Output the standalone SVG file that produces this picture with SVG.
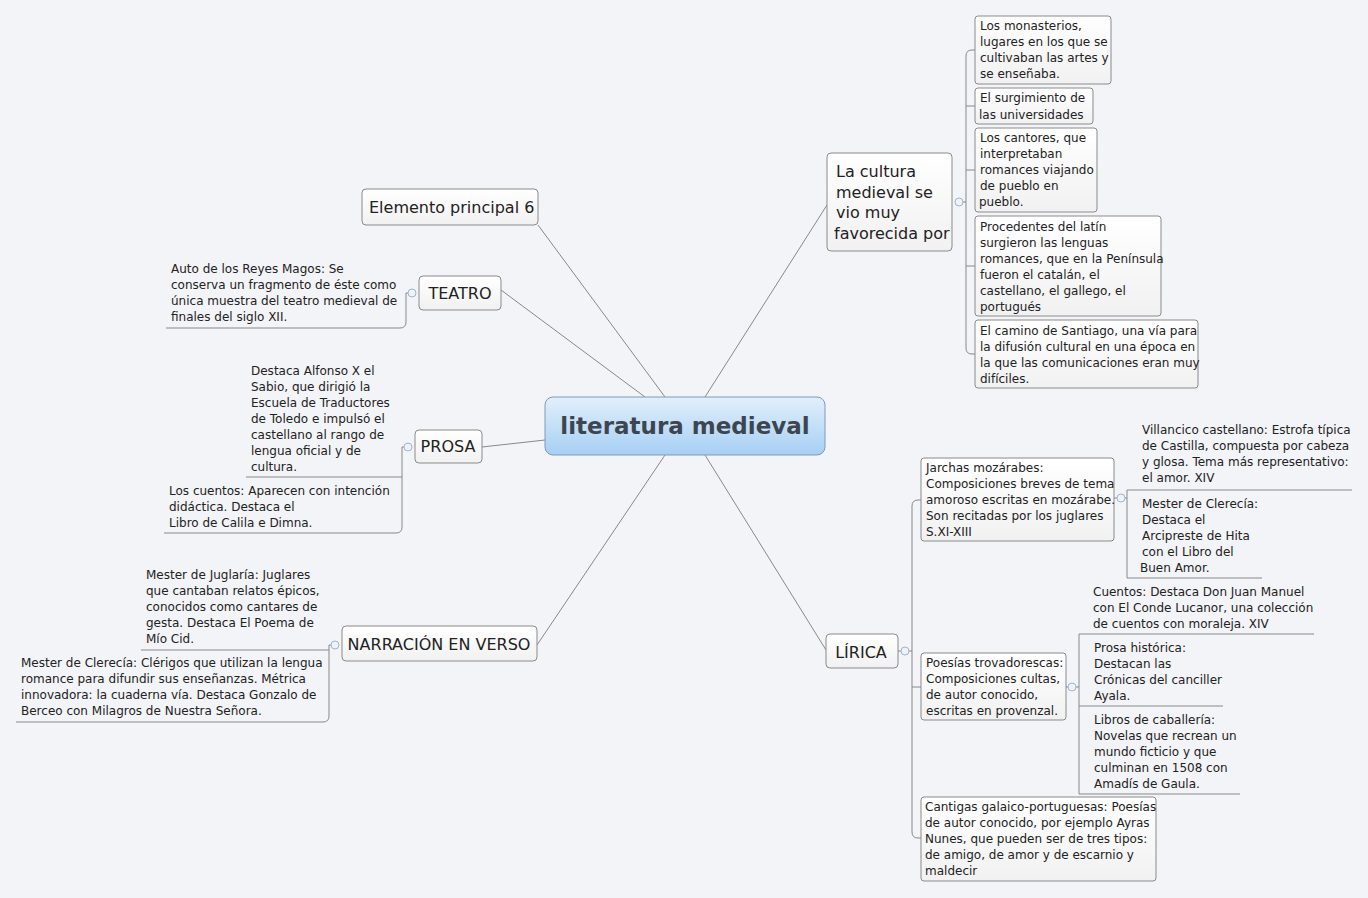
<svg xmlns="http://www.w3.org/2000/svg" width="1368" height="898" viewBox="0 0 1368 898">
<defs>
<linearGradient id="cg" x1="0" y1="0" x2="0" y2="1"><stop offset="0" stop-color="#e2effb"/><stop offset="1" stop-color="#a6cff4"/></linearGradient>
<linearGradient id="wg" x1="0" y1="0" x2="0" y2="1"><stop offset="0" stop-color="#ffffff"/><stop offset="1" stop-color="#f1f1f1"/></linearGradient>
<style>
text{font-family:"DejaVu Sans","Liberation Sans",sans-serif;fill:#222}
.s{font-size:12px}
.t{font-size:16px}
.box{fill:url(#wg);stroke:#8a8a8a;stroke-width:1}
.ln{fill:none;stroke:#888;stroke-width:1}
.ul{fill:none;stroke:#666;stroke-width:1}
.j{fill:#eef3fa;stroke:#a0b4cc;stroke-width:1}
</style>
</defs>
<rect width="1368" height="898" fill="#f3f4f7"/>
<g id="connectors">
<path class="ln" d="M538,225L665,397M501,290L645,397M482,447L545,440M537,645L665,455M827,205L705,397M826,650L705,455"/>
<path class="ln" d="M959,202H966M975,50H972Q966,50 966,56V348Q966,354 972,354H975M966,106H975M966,170H975M966,266H975"/>
<path class="ln" d="M412,293H406V322Q406,328 400,328H166"/>
<path class="ln" d="M408,447H402V527Q402,533 396,533H164M402,477H246"/>
<path class="ln" d="M335,645H329V716Q329,722 323,722H16M329,650H141"/>
<path class="ln" d="M898,651H912M921,500H918Q912,500 912,506V832Q912,838 918,838H921M912,687H921"/>
<path class="ln" d="M1114,498H1127M1127,490H1352M1127,490V578H1262"/>
<path class="ln" d="M1066,687H1079M1079,634H1314M1079,634V794H1240M1079,706H1223"/>
<circle class="j" cx="412" cy="293" r="4"/><circle class="j" cx="408" cy="447" r="4"/><circle class="j" cx="335" cy="645" r="4"/><circle class="j" cx="959" cy="202" r="4"/><circle class="j" cx="905" cy="651" r="4"/><circle class="j" cx="1121" cy="498" r="4"/><circle class="j" cx="1072" cy="687" r="4"/>
</g>
<g id="center"><rect x="545" y="397" width="280" height="58" rx="8" fill="url(#cg)" stroke="#7e9ab8"/><text x="685" y="434" text-anchor="middle" style="font-size:23px;font-weight:bold;fill:#3d4650">literatura medieval</text></g>
<g id="elemento"><rect class="box" x="362" y="189" width="176" height="36" rx="4"/><text class="t" x="369" y="213">Elemento principal  6</text></g>
<g id="teatro"><rect class="box" x="419" y="276" width="82" height="34" rx="4"/><text class="t" x="460" y="299" text-anchor="middle">TEATRO</text></g>
<g id="prosa"><rect class="box" x="415" y="430" width="67" height="33" rx="4"/><text class="t" x="448" y="452" text-anchor="middle">PROSA</text></g>
<g id="narracion"><rect class="box" x="342" y="626" width="195" height="35" rx="4"/><text class="t" x="439" y="650" text-anchor="middle">NARRACIÓN EN VERSO</text></g>
<g id="cultura"><rect class="box" x="827" y="153" width="125" height="98" rx="4"/><text class="t" x="836" y="177">La cultura</text><text class="t" x="836" y="198">medieval se</text><text class="t" x="836" y="218">vio muy</text><text class="t" x="834" y="239">favorecida por</text></g>
<g id="lirica"><rect class="box" x="826" y="634" width="72" height="34" rx="4"/><text class="t" x="861" y="658" text-anchor="middle">LÍRICA</text></g>
<g id="c1"><rect class="box" x="975" y="16" width="136" height="68" rx="3"/><text class="s" x="980" y="30">Los monasterios,</text><text class="s" x="980" y="46">lugares en los que se</text><text class="s" x="980" y="62">cultivaban las artes y</text><text class="s" x="980" y="78"> se enseñaba.</text></g>
<g id="c2"><rect class="box" x="975" y="88" width="118" height="36" rx="3"/><text class="s" x="980" y="102"> El surgimiento de</text><text class="s" x="979" y="119">las universidades</text></g>
<g id="c3"><rect class="box" x="975" y="128" width="122" height="84" rx="3"/><text class="s" x="980" y="142">Los cantores, que</text><text class="s" x="980" y="158">interpretaban</text><text class="s" x="980" y="174">romances viajando</text><text class="s" x="980" y="190"> de pueblo en</text><text class="s" x="979" y="206">pueblo.</text></g>
<g id="c4"><rect class="box" x="975" y="216" width="186" height="100" rx="3"/><text class="s" x="980" y="231">Procedentes del latín</text><text class="s" x="980" y="247">surgieron las lenguas</text><text class="s" x="980" y="263">romances, que en la Península</text><text class="s" x="980" y="279">fueron el catalán, el</text><text class="s" x="980" y="295">castellano, el gallego, el</text><text class="s" x="980" y="311">portugués</text></g>
<g id="c5"><rect class="box" x="975" y="320" width="223" height="68" rx="3"/><text class="s" x="980" y="335">El camino de Santiago, una vía para</text><text class="s" x="980" y="351">la difusión cultural en una época en</text><text class="s" x="980" y="367">la que las comunicaciones eran muy</text><text class="s" x="980" y="383">difíciles.</text></g>
<g id="auto"><text class="s" x="171" y="273">Auto de los Reyes Magos: Se</text><text class="s" x="171" y="289">conserva un fragmento de éste como</text><text class="s" x="171" y="305">única muestra del teatro medieval de</text><text class="s" x="171" y="321">finales del siglo XII.</text></g>
<g id="alfonso"><text class="s" x="251" y="375">Destaca Alfonso X el</text><text class="s" x="251" y="391">Sabio, que dirigió la</text><text class="s" x="251" y="407">Escuela de Traductores</text><text class="s" x="251" y="423">de Toledo e impulsó el</text><text class="s" x="251" y="439">castellano al rango de</text><text class="s" x="251" y="455">lengua oficial y de</text><text class="s" x="251" y="471">cultura.</text></g>
<g id="cuentos1"><text class="s" x="169" y="495">Los cuentos: Aparecen con intención</text><text class="s" x="169" y="511">didáctica. Destaca el</text><text class="s" x="169" y="527">Libro de Calila e Dimna.</text></g>
<g id="juglaria"><text class="s" x="146" y="579">Mester de Juglaría: Juglares</text><text class="s" x="146" y="595">que cantaban relatos épicos,</text><text class="s" x="146" y="611">conocidos como cantares de</text><text class="s" x="146" y="627">gesta. Destaca El Poema de</text><text class="s" x="146" y="643">Mío Cid.</text></g>
<g id="clerecia1"><text class="s" x="21" y="667">Mester de Clerecía: Clérigos que utilizan la lengua</text><text class="s" x="21" y="683">romance para difundir sus enseñanzas. Métrica</text><text class="s" x="21" y="699">innovadora: la cuaderna vía. Destaca Gonzalo de</text><text class="s" x="21" y="715">Berceo con Milagros de Nuestra Señora.</text></g>
<g id="jarchas"><rect class="box" x="921" y="458" width="193" height="83" rx="3"/><text class="s" x="926" y="472">Jarchas mozárabes:</text><text class="s" x="926" y="488">Composiciones breves de tema</text><text class="s" x="926" y="504">amoroso escritas en mozárabe.</text><text class="s" x="926" y="520">Son recitadas por los juglares</text><text class="s" x="926" y="536">S.XI-XIII</text></g>
<g id="villancico"><text class="s" x="1142" y="434">Villancico castellano: Estrofa típica</text><text class="s" x="1142" y="450">de Castilla, compuesta por cabeza</text><text class="s" x="1142" y="466">y glosa. Tema más representativo:</text><text class="s" x="1142" y="482">el amor. XIV</text></g>
<g id="clerecia2"><text class="s" x="1142" y="508">Mester de Clerecía:</text><text class="s" x="1142" y="524">Destaca el</text><text class="s" x="1142" y="540">Arcipreste de Hita</text><text class="s" x="1142" y="556">con el Libro del</text><text class="s" x="1140" y="572">Buen Amor.</text></g>
<g id="poesias"><rect class="box" x="921" y="653" width="145" height="67" rx="3"/><text class="s" x="926" y="667">Poesías trovadorescas:</text><text class="s" x="926" y="683">Composiciones cultas,</text><text class="s" x="926" y="699">de autor conocido,</text><text class="s" x="926" y="715">escritas en provenzal.</text></g>
<g id="cuentos2"><text class="s" x="1093" y="596">Cuentos: Destaca Don Juan Manuel</text><text class="s" x="1093" y="612">con El Conde Lucanor, una colección</text><text class="s" x="1093" y="628">de cuentos con moraleja. XIV</text></g>
<g id="prosahist"><text class="s" x="1094" y="652">Prosa histórica:</text><text class="s" x="1094" y="668">Destacan las</text><text class="s" x="1094" y="684">Crónicas del canciller</text><text class="s" x="1094" y="700">Ayala.</text></g>
<g id="caballeria"><text class="s" x="1094" y="724">Libros de caballería:</text><text class="s" x="1094" y="740">Novelas que recrean un</text><text class="s" x="1094" y="756">mundo ficticio y que</text><text class="s" x="1094" y="772">culminan en 1508 con</text><text class="s" x="1094" y="788">Amadís de Gaula.</text></g>
<g id="cantigas"><rect class="box" x="921" y="797" width="235" height="84" rx="3"/><text class="s" x="925" y="811">Cantigas galaico-portuguesas: Poesías</text><text class="s" x="925" y="827">de autor conocido, por ejemplo Ayras</text><text class="s" x="925" y="843">Nunes, que pueden ser de tres tipos:</text><text class="s" x="925" y="859">de amigo, de amor y de escarnio y</text><text class="s" x="925" y="875">maldecir</text></g>
</svg>
